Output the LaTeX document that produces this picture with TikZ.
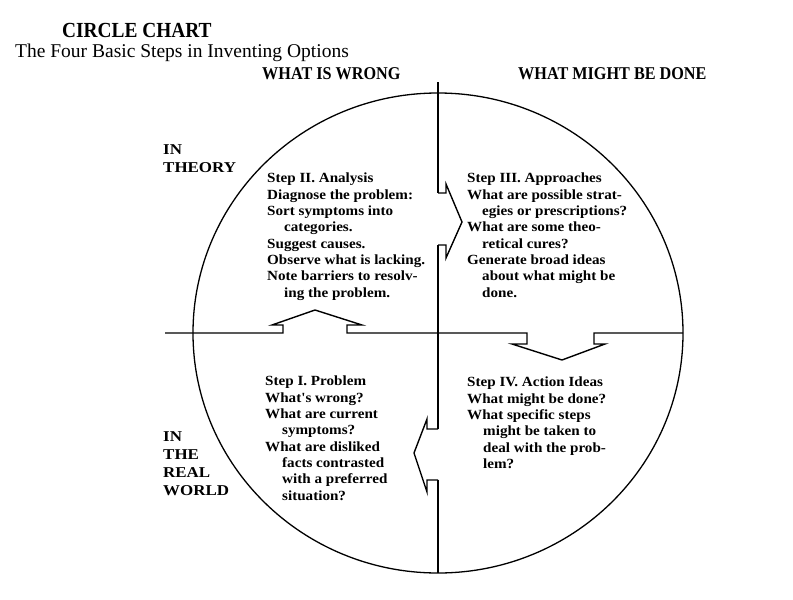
\documentclass[tikz,border=0pt]{standalone}
\usepackage{fontspec}
\setmainfont{Liberation Serif}
\newfontfamily\stepfont{Liberation Serif}[FakeStretch=1.08]
\newfontfamily\sidefont{Liberation Serif}[FakeStretch=1.13]
\newfontfamily\headfont{Liberation Serif}[FakeStretch=0.9]
\usetikzlibrary{positioning}

\begin{document}
\begin{tikzpicture}[x=1pt, y=-1pt, line join=miter]
\tikzstyle{stepbox} = [anchor=north west, inner sep=0pt, align=left, font=\stepfont\bfseries\fontsize{14}{16.3}\selectfont]
\tikzstyle{side} = [anchor=north west, inner sep=0pt, align=left, font=\sidefont\bfseries\fontsize{15}{18}\selectfont]
\tikzstyle{head} = [anchor=base west, inner sep=0pt, font=\headfont\bfseries\fontsize{18}{20}\selectfont]
\tikzstyle{divider} = [draw=black, line width=2.3pt]
\tikzstyle{notch} = [draw=black, line width=1.4pt]

\fill[white] (0,0) rectangle (793,600);
\useasboundingbox (0,0) rectangle (793,600);

% Titles
\node (title) [head, font=\headfont\bfseries\fontsize{21.5}{24}\selectfont] at (62,37) {CIRCLE CHART};
\node (subtitle) [anchor=base west, inner sep=0pt, font=\fontsize{19.5}{22}\selectfont] at (15,57) {The Four Basic Steps in Inventing Options};
\node (wrong) [head] at (262,79) {WHAT IS WRONG};
\node (done) [head] at (518,79) {WHAT MIGHT BE DONE};

% Circle and dividers
\draw[line width=1.3pt] (438,333) ellipse [x radius=245, y radius=240];
\draw[divider] (438,82) -- (438,193) (438,245) -- (438,429) (438,480) -- (438,573);
\draw[notch] (165,333) -- (283,333) -- (283,325) -- (272,325) -- (315,310) -- (362,325) -- (347,325) -- (347,333)
  -- (527,333) -- (527,344) -- (512,344) -- (562,360) -- (605,344) -- (594,344) -- (594,333) -- (683,333);
\draw[notch] (438,193) -- (446,193) -- (446,184) -- (462,222) -- (446,258) -- (446,245) -- (438,245);
\draw[notch] (438,429) -- (427,429) -- (427,419) -- (414,453) -- (427,492) -- (427,480) -- (438,480);

% Side labels
\node (theory) [side] at (163,144) {IN\\THEORY};
\node (realworld) [side] at (163,431) {IN\\THE\\REAL\\WORLD};

% Steps
\node (analysis) [stepbox] at (267,173) {Step II. Analysis\\
Diagnose the problem:\\
Sort symptoms into\\
\hspace*{17pt}categories.\\
Suggest causes.\\
Observe what is lacking.\\
Note barriers to resolv-\\
\hspace*{17pt}ing the problem.};

\node (approaches) [stepbox] at (467,173) {Step III. Approaches\\
What are possible strat-\\
\hspace*{15pt}egies or prescriptions?\\
What are some theo-\\
\hspace*{15pt}retical cures?\\
Generate broad ideas\\
\hspace*{15pt}about what might be\\
\hspace*{15pt}done.};

\node (problem) [stepbox] at (265,376) {Step I. Problem\\
What's wrong?\\
What are current\\
\hspace*{17pt}symptoms?\\
What are disliked\\
\hspace*{17pt}facts contrasted\\
\hspace*{17pt}with a preferred\\
\hspace*{17pt}situation?};

\node (actions) [stepbox] at (467,377) {Step IV. Action Ideas\\
What might be done?\\
What specific steps\\
\hspace*{16pt}might be taken to\\
\hspace*{16pt}deal with the prob-\\
\hspace*{16pt}lem?};

\end{tikzpicture}
\end{document}
